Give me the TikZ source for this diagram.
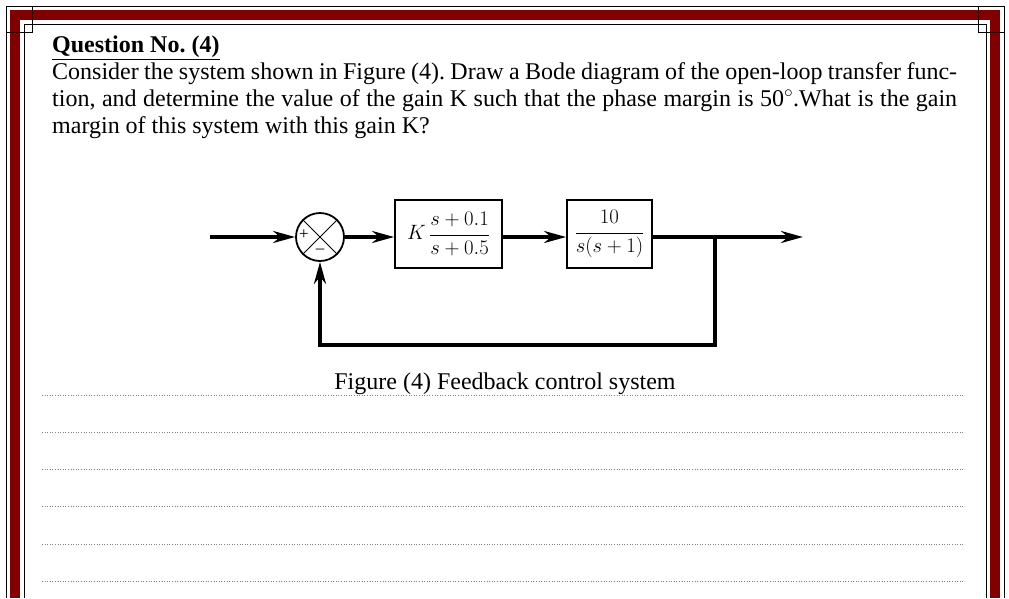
\documentclass[tikz,border=0pt]{standalone}
\usepackage{fontspec}
\setmainfont{Liberation Serif}
\usetikzlibrary{arrows.meta}
\definecolor{band}{RGB}{128,0,0}
\begin{document}
\begin{tikzpicture}[x=1pt,y=-1pt,
  blk/.style={draw,line width=1.8pt,minimum height=68pt,inner sep=2pt},
  sig/.style={line width=3.5pt,-{Stealth[length=22pt,width=12pt]}},
  rule/.style={gray,dotted,line width=0.6pt}]
\useasboundingbox (0,0) rectangle (1009,598);
\fill[white] (0,0) rectangle (1009,598);
% border
\fill[band] (10,10) rectangle (1000,20);
\fill[band] (10,10) rectangle (20,598);
\fill[band] (990,10) rectangle (1000,598);
\draw[line width=0.8pt] (6,6) -- (1004,6);
\draw[line width=0.8pt] (6,6) -- (6,598);
\draw[line width=0.8pt] (1004,6) -- (1004,598);
\draw[line width=0.8pt] (24,24) -- (986,24) ;
\draw[line width=0.8pt] (24,24) -- (24,598);
\draw[line width=0.8pt] (986,24) -- (986,598);
\draw[line width=0.8pt] (6,6) rectangle (32,32);
\draw[line width=0.8pt] (978,6) rectangle (1004,32);
% text
\node[anchor=north west,inner sep=0pt,text width=905pt,align=justify,font=\fontsize{24}{27}\selectfont\frenchspacing] (txt) at (52,36)
{\underline{\textbf{Question No. (4)}}\\
Consider the system shown in Figure (4). Draw a Bode diagram of the open-loop transfer function, and determine the value of the gain K such that the phase margin is 50$^\circ$.What is the gain margin of this system with this gain K?};
% diagram
\coordinate (in) at (210,237);
\node[draw,circle,line width=1.8pt,minimum size=48pt,inner sep=0pt] (sum) at (320,237) {};
\draw[line width=0.8pt] (sum.north west) -- (sum.south east) (sum.north east) -- (sum.south west);
\node[font=\fontsize{17}{17}\selectfont] at (304,235) {+};
\node[font=\fontsize{17}{17}\selectfont] at (320,251) {--};
\node[blk,minimum width=107pt,font=\fontsize{20}{20}\selectfont] (b1) at (448.5,234) {$K\,\displaystyle\frac{s+0.1}{s+0.5}$};
\node[blk,minimum width=85pt,font=\fontsize{20}{20}\selectfont] (b2) at (609.5,234) {$\displaystyle\frac{10}{s(s+1)}$};
\coordinate (br) at (715,237);
\coordinate (out) at (803,237);
\coordinate (c1) at (715,345);
\coordinate (c2) at (320,345);
\draw[sig] (in) -- (sum.west);
\draw[sig] (sum.east) -- (b1.west |- sum.east);
\draw[sig] (b1.east |- sum.east) -- (b2.west |- sum.east);
\draw[sig] (b2.east |- sum.east) -- (out);
\draw[sig] (br) -- (c1) -- (c2) -- (sum.south);
\node[font=\fontsize{24}{24}\selectfont,anchor=base] (cap) at (505,389) {Figure (4) Feedback control system};
\foreach \y in {395,432,469,506,544,581} \draw[rule] (42,\y) -- (965,\y);
\end{tikzpicture}
\end{document}
